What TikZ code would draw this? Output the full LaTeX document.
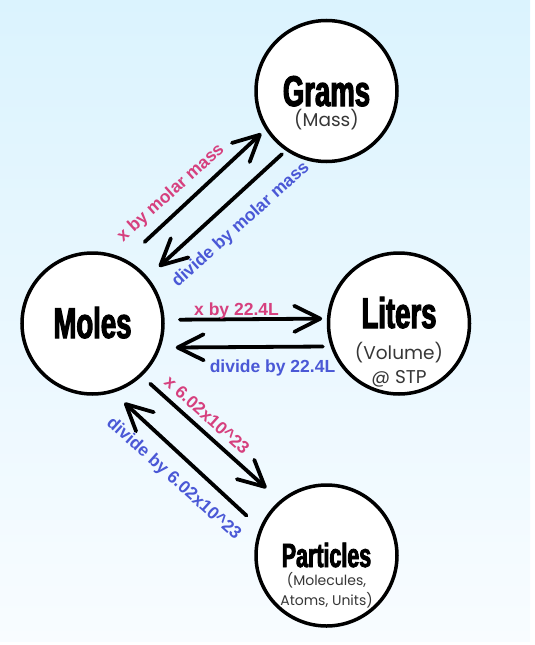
\documentclass[tikz,border=0pt]{standalone}
\usepackage{fontspec}
\setmainfont{Liberation Sans}
\newfontfamily\titlefont{Liberation Sans Bold}[FakeStretch=0.64,FakeBold=2.5]
\newfontfamily\subfont{Poppins}
\usetikzlibrary{arrows.meta}
\definecolor{pinktext}{RGB}{214,64,126}
\definecolor{bluetext}{RGB}{74,88,214}
\definecolor{skytop}{RGB}{219,243,254}
\definecolor{skybottom}{RGB}{248,252,255}
\definecolor{subgray}{RGB}{55,55,55}
\tikzset{
	unit/.style={circle,draw,line width=3.5pt,fill=white,minimum size=141pt,inner sep=0pt,outer sep=0pt},
	unitname/.style={anchor=base,inner sep=0pt,font=\titlefont\fontsize{43}{43}\selectfont},
	unitnote/.style={anchor=base,inner sep=0pt,text=subgray,font=\subfont\fontsize{18.5}{18.5}\selectfont},
	conv/.style={line width=3.8pt,line cap=round,-{Straight Barb[length=26pt,width=26pt,round]}},
	times/.style={inner sep=0pt,text=pinktext,font=\bfseries\fontsize{17.5}{17.5}\selectfont},
	divide/.style={inner sep=0pt,text=bluetext,font=\bfseries\fontsize{17.5}{17.5}\selectfont}
}
\begin{document}
\begin{tikzpicture}[x=1pt,y=1pt]
		\useasboundingbox (0,0) rectangle (535,-645);
		\shade[top color=skytop,bottom color=skybottom] (0,0) rectangle (530,-641);
		% circles
		\node[unit] (grams) at (326.5,-91) {};
		\node[unit] (moles) at (92.5,-323.5) {};
		\node[unit] (liters) at (399,-323.5) {};
		\node[unit] (particles) at (326.5,-555.5) {};
		% names inside
		\node[unitname] (gramsname) at ([yshift=-15pt]grams.center) {Grams};
		\node[unitnote] (gramsnote) at ([yshift=-35pt]grams.center) {(Mass)};
		\node[unitname] (molesname) at ([yshift=-14.5pt]moles.center) {Moles};
		\node[unitname] (litersname) at ([yshift=-4.5pt]liters.center) {Liters};
		\node[unitnote] (litersnote) at ([yshift=-35.5pt]liters.center) {(Volume)};
		\node[unitnote] (litersstp) at ([yshift=-59.5pt]liters.center) {@ STP};
		\node[unitname,font=\titlefont\fontsize{33.5}{33.5}\selectfont] (particlesname) at ([yshift=-11.5pt]particles.center) {Particles};
		\node[unitnote,font=\subfont\fontsize{14}{14}\selectfont] (particlesnote) at ([yshift=-29.5pt]particles.center) {(Molecules,};
		\node[unitnote,font=\subfont\fontsize{14}{14}\selectfont] (particlesnotes) at ([yshift=-49.5pt]particles.center) {Atoms, Units)};
		% conversions
		\draw[conv,shorten <=27.5pt,shorten >=7.5pt] (moles.63) -- (grams.212);
		\draw[conv,shorten <=7pt,shorten >=17pt] (grams.236) -- (moles.40);
		\draw[conv,shorten <=17pt,shorten >=6.5pt] (moles.3.7) -- (liters.176.3);
		\draw[conv,shorten <=9.5pt,shorten >=17pt] (liters.199.5) -- (moles.340.5);
		\draw[conv,shorten <=13pt,shorten >=20pt] (moles.313) -- (particles.130);
		\draw[conv,shorten <=20pt,shorten >=17pt] (particles.158) -- (moles.286);
		% labels
		\node[times,rotate=42] (tomass) at (171,-193) {x by molar mass};
		\node[divide,rotate=42] (frommass) at (241,-225) {divide by molar mass};
		\node[times,anchor=base] (tovolume) at (236.5,-315) {x by 22.4L};
		\node[divide,anchor=base] (fromvolume) at (272.5,-372) {divide by 22.4L};
		\node[times,rotate=-42] (toparticles) at (207,-415) {x 6.02x10\^{}23};
		\node[divide,rotate=-42] (fromparticles) at (173.5,-479) {divide by 6.02x10\^{}23};
\end{tikzpicture}
\end{document}
